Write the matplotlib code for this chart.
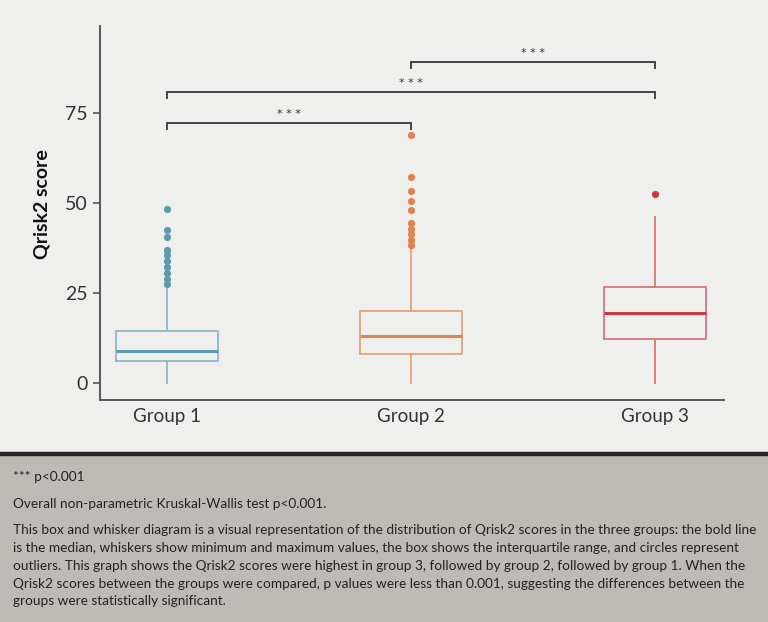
import matplotlib
matplotlib.use("Agg")
import matplotlib.pyplot as plt
from matplotlib.patches import Rectangle
from matplotlib.lines import Line2D

# ---- data ----
groups = ["Group 1", "Group 2", "Group 3"]
whisker_low = [0.0, 0.0, 0.0]
q1 = [6.2, 8.1, 12.3]
medians = [8.9, 13.1, 19.4]
q3 = [14.4, 20.0, 26.7]
whisker_high = [26.7, 37.9, 46.2]
outliers_g1 = [27.4, 29.0, 30.5, 32.2, 33.8, 35.6, 37.1, 40.6, 42.6, 48.3]
outliers_g2 = [38.3, 39.8, 41.4, 42.9, 44.4, 48.1, 50.6, 53.4, 57.3, 69.0]
outliers_g3 = [52.4]
outliers = [outliers_g1, outliers_g2, outliers_g3]

yticks = [0, 25, 50, 75]
# significance brackets: (group a, group b, bar height, label)
bracket_a = [0, 0, 1]
bracket_b = [1, 2, 2]
bracket_y = [72.3, 80.8, 89.2]
bracket_labels = ["***", "***", "***"]

caption_key = "*** p<0.001"
caption_test = "Overall non-parametric Kruskal-Wallis test p<0.001."
caption_lines = [
    "This box and whisker diagram is a visual representation of the distribution of Qrisk2 scores in the three groups: the bold line",
    "is the median, whiskers show minimum and maximum values, the box shows the interquartile range, and circles represent",
    "outliers. This graph shows the Qrisk2 scores were highest in group 3, followed by group 2, followed by group 1. When the",
    "Qrisk2 scores between the groups were compared, p values were less than 0.001, suggesting the differences between the",
    "groups were statistically significant.",
]

# ---- styles ----
main_colors = ["#5b9bb0", "#e0834f", "#cc3a3f"]
light_colors = ["#8cb8c7", "#e6a27c", "#d9767a"]
bg_top = "#efefed"
bg_bottom = "#bebbb6"

plt.rcParams["font.family"] = ["Lato", "DejaVu Sans"]

fig = plt.figure(figsize=(7.68, 6.22), dpi=100, facecolor=bg_top)

# lower caption panel
fig.patches.append(Rectangle((0, 0), 1, 1 - 455 / 622, transform=fig.transFigure,
                             facecolor=bg_bottom, edgecolor="none", zorder=0))
fig.lines.append(Line2D([0, 1], [1 - 454 / 622, 1 - 454 / 622], transform=fig.transFigure,
                        color="#262626", linewidth=3.2, zorder=1))

ax = fig.add_axes([100 / 768, 1 - 400 / 622, 624 / 768, 374 / 622])
ax.set_facecolor(bg_top)

positions = list(range(len(groups)))
for i in positions:
    stats = [{
        "whislo": whisker_low[i], "q1": q1[i], "med": medians[i],
        "q3": q3[i], "whishi": whisker_high[i], "fliers": outliers[i],
        "label": groups[i],
    }]
    ax.bxp(stats, positions=[i], widths=0.415, showcaps=False,
           boxprops=dict(color=light_colors[i], linewidth=1.3),
           whiskerprops=dict(color=light_colors[i], linewidth=1.3),
           medianprops=dict(color=main_colors[i], linewidth=2.2),
           flierprops=dict(marker="o", markersize=5.2, markerfacecolor=main_colors[i],
                           markeredgecolor="none", linestyle="none"),
           manage_ticks=False)

# brackets
tick_drop = 1.6
for a, b, y, lab in zip(bracket_a, bracket_b, bracket_y, bracket_labels):
    ax.plot([a, a, b, b], [y - tick_drop, y, y, y - tick_drop], color="#444444",
            linewidth=1.4, solid_joinstyle="miter")
    ax.text((a + b) / 2, y + 1.1, " ".join(lab), ha="center", va="bottom",
            fontsize=8, color="#333333", family=["DejaVu Sans"])

ax.set_xlim(-0.275, 2.283)
ax.set_ylim(-4.7, 99.2)
ax.set_xticks(positions)
ax.set_xticklabels(groups, fontsize=13.5, color="#333333")
ax.set_yticks(yticks)
ax.set_yticklabels([str(t) for t in yticks], fontsize=14, color="#333333")
ax.tick_params(axis="x", length=0, pad=6)
ax.tick_params(axis="y", length=5, width=1.2, color="#555555", pad=4)
for s in ["top", "right"]:
    ax.spines[s].set_visible(False)
for s in ["left", "bottom"]:
    ax.spines[s].set_color("#555555")
    ax.spines[s].set_linewidth(1.4)
ax.set_ylabel("Qrisk2 score", fontsize=14, fontweight="bold", color="#111111")
ax.yaxis.set_label_coords(-0.080, 0.524)

# caption
cap_size = 9.8
fig.text(13 / 768, 1 - 481 / 622, caption_key, fontsize=cap_size, va="baseline", ha="left", color="#222222")
fig.text(13 / 768, 1 - 508.5 / 622, caption_test, fontsize=cap_size, va="baseline", ha="left", color="#222222")
for k, line in enumerate(caption_lines):
    fig.text(13 / 768, 1 - (534.5 + 17.7 * k) / 622, line, fontsize=cap_size, va="baseline",
             ha="left", color="#222222")

fig.savefig("out.png", dpi=100, facecolor=bg_top)
